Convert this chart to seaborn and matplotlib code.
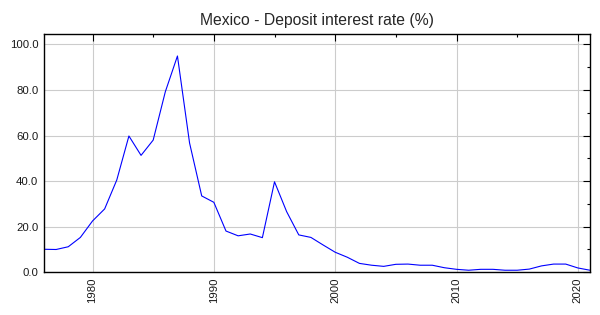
import pandas as pd
import seaborn as sns
import matplotlib.pyplot as plt
from matplotlib.ticker import MultipleLocator, FormatStrFormatter

# Deposit interest rate, Mexico (%)
years = list(range(1976, 2022))
rates = [10.1, 10.0, 11.2, 15.3, 22.5, 27.8, 40.5, 59.8, 51.3, 58.0,
         79.2, 94.9, 56.7, 33.5, 30.7, 18.1, 16.0, 16.8, 15.2, 39.7,
         26.6, 16.4, 15.3, 12.0, 8.8, 6.6, 3.9, 3.1, 2.6, 3.5,
         3.6, 3.1, 3.1, 2.0, 1.3, 0.9, 1.3, 1.3, 0.9, 0.9,
         1.4, 2.8, 3.6, 3.6, 1.9, 0.9]

df = pd.DataFrame({"Year": years, "Rate": rates})

sns.set_style("white")
plt.rcParams["font.family"] = ["Liberation Sans", "DejaVu Sans"]

fig = plt.figure(figsize=(6, 3.15), dpi=100)
ax = fig.add_axes([0.0733, 0.1356, 0.9100, 0.7554])

sns.lineplot(data=df, x="Year", y="Rate", ax=ax, color="#0000ff", linewidth=0.8)

ax.set_xlim(1976, 2021)
ax.set_ylim(0, 104.4)
ax.xaxis.set_major_locator(MultipleLocator(10))
ax.xaxis.set_minor_locator(MultipleLocator(5))
ax.yaxis.set_major_locator(MultipleLocator(20))
ax.yaxis.set_minor_locator(MultipleLocator(10))
ax.yaxis.set_major_formatter(FormatStrFormatter("%.1f"))

ax.grid(True, which="major", color="#cccccc", linewidth=0.8)
ax.set_axisbelow(True)
for s in ax.spines.values():
    s.set_color("black")
    s.set_linewidth(1.0)

ax.tick_params(which="both", direction="in", top=True, right=True,
               labelsize=8.2, colors="black", labelcolor="#1a1a1a")
ax.tick_params(which="major", length=5, width=0.8, pad=4)
ax.tick_params(which="minor", length=2.5, width=0.8)
plt.setp(ax.get_xticklabels(), rotation=90)

ax.set_xlabel("")
ax.set_ylabel("")
ax.set_title("Mexico - Deposit interest rate (%)", fontsize=11.3, pad=7)

plt.savefig("out.png", dpi=100)
